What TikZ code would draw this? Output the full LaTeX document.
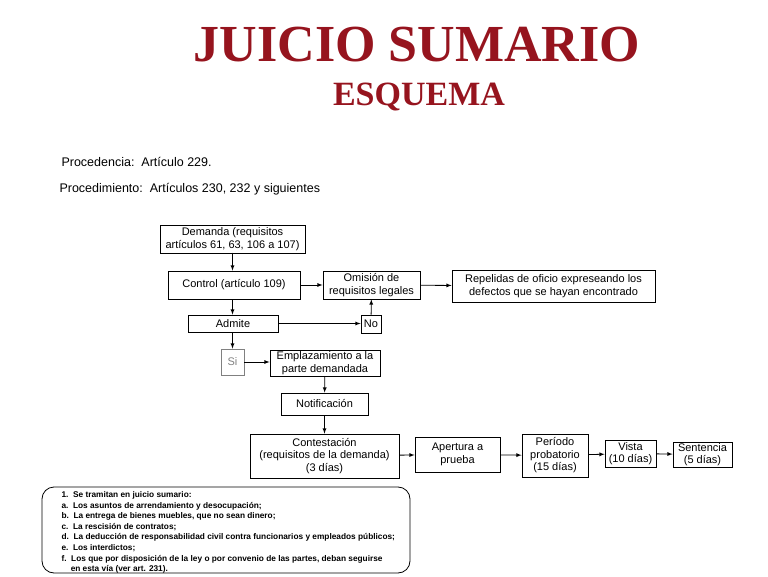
\documentclass[tikz,border=0pt]{standalone}
\usepackage{fontspec}
\setmainfont{Liberation Sans}
\newfontfamily\titlefont{Liberation Serif}
\usetikzlibrary{arrows}
\usetikzlibrary{calc}
\definecolor{titlered}{RGB}{150,20,30}
\begin{document}
\begin{tikzpicture}[x=1pt,y=-1pt,
	box/.style={draw, thick, inner sep=0pt, align=center, font=\fontsize{11}{12.5}\selectfont},
	link/.style={-latex, thick}]
	\useasboundingbox (0,0) rectangle (768,577);

	%title
	\node[font=\titlefont\bfseries\fontsize{52}{52}\selectfont, text=titlered] (title) at (417,45) {JUICIO SUMARIO};
	\node[font=\titlefont\bfseries\fontsize{34}{34}\selectfont, text=titlered] (subtitle) at (419,97) {ESQUEMA};

	%header lines
	\node[anchor=west, font=\fontsize{12.5}{12.5}\selectfont] (proc) at (58,162) {Procedencia:\ \ Artículo 229.};
	\node[anchor=west, font=\fontsize{12.5}{12.5}\selectfont] (procd) at (56,189) {Procedimiento:\ \ Artículos 230, 232 y siguientes};

	%flow boxes
	\node[box, minimum width=145, minimum height=28] (dem) at (232.5,239) {Demanda (requisitos\\artículos 61, 63, 106 a 107)};
	\node[box, minimum width=132, minimum height=28] (ctrl) at (234,285) {Control (artículo 109)};
	\node[box, minimum width=97, minimum height=28] (omis) at (371.5,285) {Omisión de\\requisitos legales};
	\node[box, minimum width=203, minimum height=32] (rep) at (553.5,286) {Repelidas de oficio expreseando los\\defectos que se hayan encontrado};
	\node[box, minimum width=90, minimum height=17] (adm) at (233,323.5) {Admite};
	\node[box, minimum width=20, minimum height=18] (no) at (371,324) {No};
	\node[box, minimum width=23, minimum height=26, draw=gray, text=gray] (si) at (232.5,362) {Si};
	\node[box, minimum width=110, minimum height=26] (empl) at (325,363) {Emplazamiento a la\\parte demandada};
	\node[box, minimum width=87, minimum height=22] (notif) at (324.5,404) {Notificación};
	\node[box, minimum width=149, minimum height=44] (cont) at (324.5,456) {Contestación\\(requisitos de la demanda)\\(3 días)};
	\node[box, minimum width=85, minimum height=35] (aper) at (457.5,454.5) {Apertura a\\prueba};
	\node[box, minimum width=66, minimum height=43] (per) at (555,455.5) {Período\\probatorio\\(15 días)};
	\node[box, minimum width=51, minimum height=27] (vista) at (630.5,453.5) {Vista\\(10 días)};
	\node[box, minimum width=59, minimum height=25] (sent) at (702.5,454.5) {Sentencia\\(5 días)};

	%connectors
	\draw[link] (ctrl.north -| si) ++(0,-18) coordinate (c1) -- (c1 |- ctrl.north);
	\draw[link] (ctrl) -- (omis);
	\draw[link] (omis) -- (rep);
	\draw[link] (ctrl.south -| si) -- (si |- adm.north);
	\draw[link] (adm.east) -- (adm.east -| no.west);
	\draw[link] (no) -- (omis);
	\draw[link] (adm.south -| si) -- (si.north);
	\draw[link] (si) -- (si -| empl.west);
	\draw[link] (empl) -- (notif);
	\draw[link] (notif) -- (cont);
	\draw[link] (cont) -- (aper);
	\draw[link] (aper) -- (per);
	\draw[link] (per) -- (vista);
	\draw[link] (vista) -- (sent);

	%note
	\draw[thick, rounded corners=12] (42,487) rectangle (410,573);
	\node[anchor=north west, align=left, font=\bfseries\fontsize{8.3}{10.6}\selectfont] (note) at (58,488) {%
		1.\ \ Se tramitan en juicio sumario:\\
		a.\ \ Los asuntos de arrendamiento y desocupación;\\
		b.\ \ La entrega de bienes muebles, que no sean dinero;\\
		c.\ \ La rescisión de contratos;\\
		d.\ \ La deducción de responsabilidad civil contra funcionarios y empleados públicos;\\
		e.\ \ Los interdictos;\\
		f.\ \ Los que por disposición de la ley o por convenio de las partes, deban seguirse\\
		\ \ \ \ en esta vía (ver art. 231).};
\end{tikzpicture}
\end{document}
